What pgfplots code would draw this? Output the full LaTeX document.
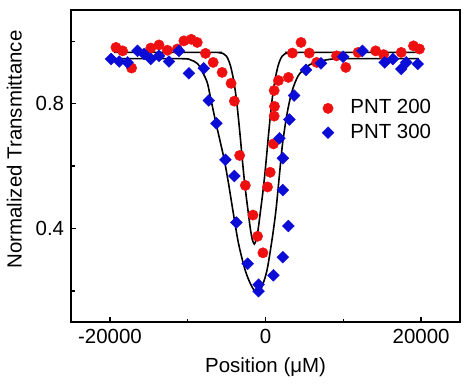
\documentclass[border=0pt]{standalone}
\usepackage{fontspec}
\setmainfont{Liberation Sans}
\usepackage{pgfplots}
\pgfplotsset{compat=1.18}
\definecolor{pred}{RGB}{238,16,16}
\definecolor{pblue}{RGB}{12,12,215}
\begin{document}
\fontsize{20.5}{24}\selectfont
\begin{tikzpicture}
\begin{axis}[
  scale only axis, width=390pt, height=313pt,
  xmin=-25000, xmax=25000, ymin=0.1, ymax=1.1,
  xtick={-20000,0,20000}, minor xtick={-10000,10000},
  scaled x ticks=false,
  ytick={0.4,0.8}, minor ytick={0.2,0.6,1.0},
  tick align=inside, major tick length=5pt, minor tick length=3.5pt,
  xtick pos=bottom, ytick pos=left,
  axis line style={line width=1.6pt},
  every tick/.style={black, line width=1.3pt},
  tick label style={font=\fontsize{20.5}{24}\selectfont},
  label style={font=\fontsize{20.5}{24}\selectfont},
  /pgf/number format/assume math mode=true,
  /pgf/number format/1000 sep={},
  xticklabel style={/pgf/number format/fixed, /pgf/number format/precision=0},
  yticklabel style={/pgf/number format/fixed, /pgf/number format/precision=1, /pgf/number format/fixed zerofill},
  xlabel={Position (μM)}, ylabel={Normalized Transmittance},
  ylabel style={at={(ticklabel cs:0.553)}},
  legend style={draw=none, fill=none, at={(0.63,0.726)}, anchor=north west, font=\fontsize{20.5}{24}\selectfont, row sep=3pt},
  legend cell align=left,
  legend image code/.code={\path (0cm,0cm) (1.01cm,0cm);\draw[mark repeat=2,mark phase=2,#1] plot coordinates {(0cm,0cm) (0.3cm,0cm) (0.6cm,0cm)};},
]
\addplot[only marks, mark=*, mark size=5.2pt, color=pred, mark options={draw=pred, fill=pred}] coordinates {
(-19233,0.980) (-18376,0.969) (-17224,0.914) (-14756,0.978) (-13694,0.988)
(-12620,0.971) (-11340,0.975) (-10496,1.001) (-9549,1.006) (-8782,0.996)
(-7720,0.961) (-6735,0.932) (-5584,0.900) (-4433,0.865) (-4010,0.808)
(-3332,0.634) (-2603,0.538) (-1618,0.443) (-1030,0.375) (-339,0.322)
(249,0.533) (595,0.580) (1017,0.671) (1107,0.760) (1145,0.791)
(1107,0.842) (1657,0.874) (2936,0.884) (3447,0.962) (4560,0.996)
(5622,0.962) (6569,0.932) (9127,0.953) (10317,0.916) (11890,0.964)
(14155,0.969) (15178,0.957) (17442,0.964) (19016,0.985) (19783,0.975)
};
\addlegendentry{PNT 200}
\addplot[only marks, mark=square*, mark size=4.2pt, color=pblue, mark options={draw=pblue, fill=pblue, rotate=45}] coordinates {
(-19860,0.943) (-18811,0.935) (-17736,0.932) (-16457,0.969) (-15613,0.959)
(-14756,0.943) (-13694,0.953) (-12415,0.935) (-11136,0.969) (-9856,0.897)
(-7938,0.913) (-7298,0.810) (-6313,0.737) (-5162,0.620) (-4010,0.568)
(-3754,0.419) (-2309,0.287) (-902,0.220) (-902,0.199) (1017,0.250)
(2219,0.308) (2936,0.408) (2219,0.523) (2219,0.625) (1785,0.689)
(3064,0.749) (3665,0.826) (5200,0.908) (7119,0.929) (9972,0.950)
(12453,0.969) (15306,0.932) (16368,0.943) (17442,0.911) (18081,0.932)
(19565,0.927)
};
\addlegendentry{PNT 300}
\addplot[black, line width=1.6pt, smooth, forget plot] coordinates {
(-19500,0.964) (-6566,0.964) (-5927,0.963) (-5415,0.960) (-5031,0.952)
(-4775,0.940) (-4520,0.922) (-4264,0.895) (-4008,0.860) (-3752,0.815)
(-3496,0.755) (-3241,0.690) (-2985,0.620) (-2729,0.555) (-2473,0.500)
(-2217,0.450) (-1962,0.400) (-1706,0.365) (-1450,0.350) (-1194,0.365)
(-938,0.400) (-683,0.450) (-427,0.500) (-171,0.555) (85,0.620)
(341,0.690) (596,0.755) (852,0.815) (1108,0.860) (1364,0.895)
(1620,0.922) (1875,0.940) (2131,0.952) (2515,0.960) (3027,0.963)
(3666,0.964) (19700,0.964)
};
\addplot[black, line width=1.6pt, smooth, forget plot] coordinates {
(-19500,0.944) (-10918,0.944) (-9639,0.940) (-8743,0.928) (-8104,0.901)
(-7503,0.868) (-7080,0.820) (-6441,0.745) (-5801,0.675) (-5290,0.618)
(-4740,0.541) (-4100,0.442) (-3460,0.350) (-2603,0.265) (-1746,0.213)
(-940,0.191) (-467,0.213) (173,0.265) (812,0.361) (1324,0.456)
(1746,0.562) (2168,0.668) (2731,0.763) (3371,0.837) (4215,0.890)
(5494,0.922) (6773,0.934) (8270,0.942) (10189,0.944) (19700,0.944)
};
\end{axis}
\path ([shift={(-70pt,-56pt)}]current axis.south west) rectangle ([shift={(14pt,10pt)}]current axis.north east);
\end{tikzpicture}
\end{document}
